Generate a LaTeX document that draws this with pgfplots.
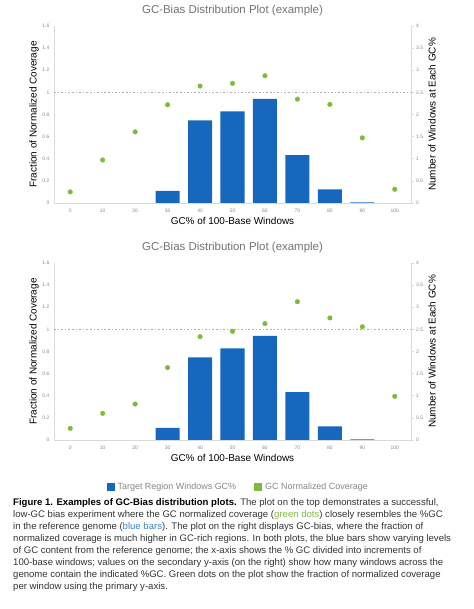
\documentclass[border=0pt]{standalone}
\usepackage{pgfplots}
\pgfplotsset{compat=1.18}
\usepackage{pgfplotstable}
\usepackage{fontspec}
\setmainfont{Liberation Sans}
\definecolor{barblue}{RGB}{22,104,190}
\definecolor{dotgreen}{RGB}{128,186,58}
\definecolor{txtgray}{RGB}{135,135,135}
\definecolor{titlegray}{RGB}{115,115,115}
\definecolor{axgray}{RGB}{218,218,218}
\definecolor{capblue}{RGB}{60,130,200}
\definecolor{capgreen}{RGB}{130,185,70}

\pgfplotstableread{
x n
30 0.272
40 1.865
50 2.068
60 2.355
70 1.080
80 0.310
90 0.015
}\bars

\pgfplotstableread{
x f
0 0.100
10 0.389
20 0.643
30 0.888
40 1.057
50 1.081
60 1.150
70 0.939
80 0.891
90 0.589
100 0.124
}\dotsA

\pgfplotstableread{
x f
0 0.105
10 0.241
20 0.325
30 0.654
40 0.934
50 0.982
60 1.052
70 1.250
80 1.103
90 1.024
100 0.395
}\dotsB

\pgfplotsset{
  gcbase/.style={
    scale only axis, width=357bp, height=177bp,
    xmin=-5, xmax=105,
    /pgf/number format/assume math mode=true,
    axis line style={draw=axgray, line width=0.6bp},
    tick label style={font=\fontsize{5}{6}\selectfont, text=txtgray, inner sep=0pt},
    label style={font=\fontsize{9.3}{11}\selectfont, text=txtgray},
  },
  gcleft/.style={
    gcbase,
    axis x line*=bottom, axis y line*=left,
    ymin=0, ymax=1.6,
    ytick={0,0.2,0.4,0.6,0.8,1,1.2,1.4,1.6},
    yticklabels={0,0.2,0.4,0.6,0.8,1,1.2,1.4,1.6},
    xtick={0,10,...,100},
    major tick length=0pt,
    xticklabel style={anchor=center, yshift=-7.7bp},
    yticklabel style={anchor=east, xshift=-4.5bp},
    xlabel={GC\% of 100-Base Windows},
    ylabel={Fraction of Normalized Coverage},
    every axis x label/.style={at={(axis description cs:0.5,-0.102)}, anchor=center},
    every axis y label/.style={at={(axis description cs:-0.056,0.5)}, rotate=90, anchor=center},
    every axis title/.style={at={(axis description cs:0.5,1.085)}, anchor=center,
      font=\fontsize{11.5}{13}\selectfont, text=titlegray},
    title={GC-Bias Distribution Plot (example)},
  },
  gcright/.style={
    gcbase,
    axis x line=none, axis y line*=right,
    ymin=0, ymax=4,
    ytick={0,0.5,1,1.5,2,2.5,3,3.5,4},
    yticklabels={0,0.5,1,1.5,2,2.5,3,3.5,4},
    major tick length=2.5bp,
    tick align=outside,
    tick style={draw=axgray, line width=0.5bp},
    yticklabel style={anchor=west, xshift=2.5bp},
    ylabel={Number of Windows at Each GC\%},
    every axis y label/.style={at={(axis description cs:1.059,0.5)}, rotate=90, anchor=center},
  },
}

\begin{document}
\begin{tikzpicture}[x=1bp,y=1bp]
\useasboundingbox (0,0) rectangle (474,609);

% ---- top chart ----
\begin{axis}[gcright, at={(54bp,406bp)}, anchor=south west]
  \addplot[ybar, bar width=7.4, fill=barblue, draw=none] table[x=x,y=n] {\bars};
\end{axis}
\begin{axis}[gcleft, at={(54bp,406bp)}, anchor=south west]
  \addplot[draw={rgb,255:red,175;green,175;blue,175}, line width=0.6bp, dash pattern=on 1.6bp off 2bp] coordinates {(-5,1) (105,1)};
  \addplot[only marks, mark=*, mark size=2.3bp, color=dotgreen] table[x=x,y=f] {\dotsA};
\end{axis}

% ---- bottom chart ----
\begin{axis}[gcright, at={(54bp,169bp)}, anchor=south west,
  legend style={at={(axis description cs:0.516,-0.265)}, anchor=center, draw=none, fill=none,
    font=\fontsize{9}{10}\selectfont, text=txtgray, legend columns=2,
    /tikz/every even column/.append style={column sep=16bp},
    /tikz/every odd column/.append style={column sep=1bp}},
  legend image code/.code={\fill[#1] (0bp,-4bp) rectangle (8bp,4bp);}]
  \addplot[ybar, bar width=7.4, fill=barblue, draw=none] table[x=x,y=n] {\bars};
  \addlegendentry{Target Region Windows GC\%}
  \addlegendimage{fill=dotgreen, draw=none}
  \addlegendentry{GC Normalized Coverage}
\end{axis}
\begin{axis}[gcleft, at={(54bp,169bp)}, anchor=south west]
  \addplot[draw={rgb,255:red,175;green,175;blue,175}, line width=0.6bp, dash pattern=on 1.6bp off 2bp] coordinates {(-5,1) (105,1)};
  \addplot[only marks, mark=*, mark size=2.3bp, color=dotgreen] table[x=x,y=f] {\dotsB};
\end{axis}

% ---- caption ----
\node[anchor=north west, inner sep=0pt, align=left, text={rgb,255:red,50;green,50;blue,50},
      font=\fontsize{9.6}{12}\selectfont] at (13,110.5) {%
{\color{black}\textbf{Figure 1. Examples of GC-Bias distribution plots.}} The plot on the top demonstrates a successful,\\
low-GC bias experiment where the GC normalized coverage ({\color{capgreen}green dots}) closely resembles the \%GC\\
in the reference genome ({\color{capblue}blue bars}). The plot on the right displays GC-bias, where the fraction of\\
normalized coverage is much higher in GC-rich regions. In both plots, the blue bars show varying levels\\
of GC content from the reference genome; the x-axis shows the \% GC divided into increments of\\
100-base windows; values on the secondary y-axis (on the right) show how many windows across the\\
genome contain the indicated \%GC. Green dots on the plot show the fraction of normalized coverage\\
per window using the primary y-axis.};
\end{tikzpicture}
\end{document}
